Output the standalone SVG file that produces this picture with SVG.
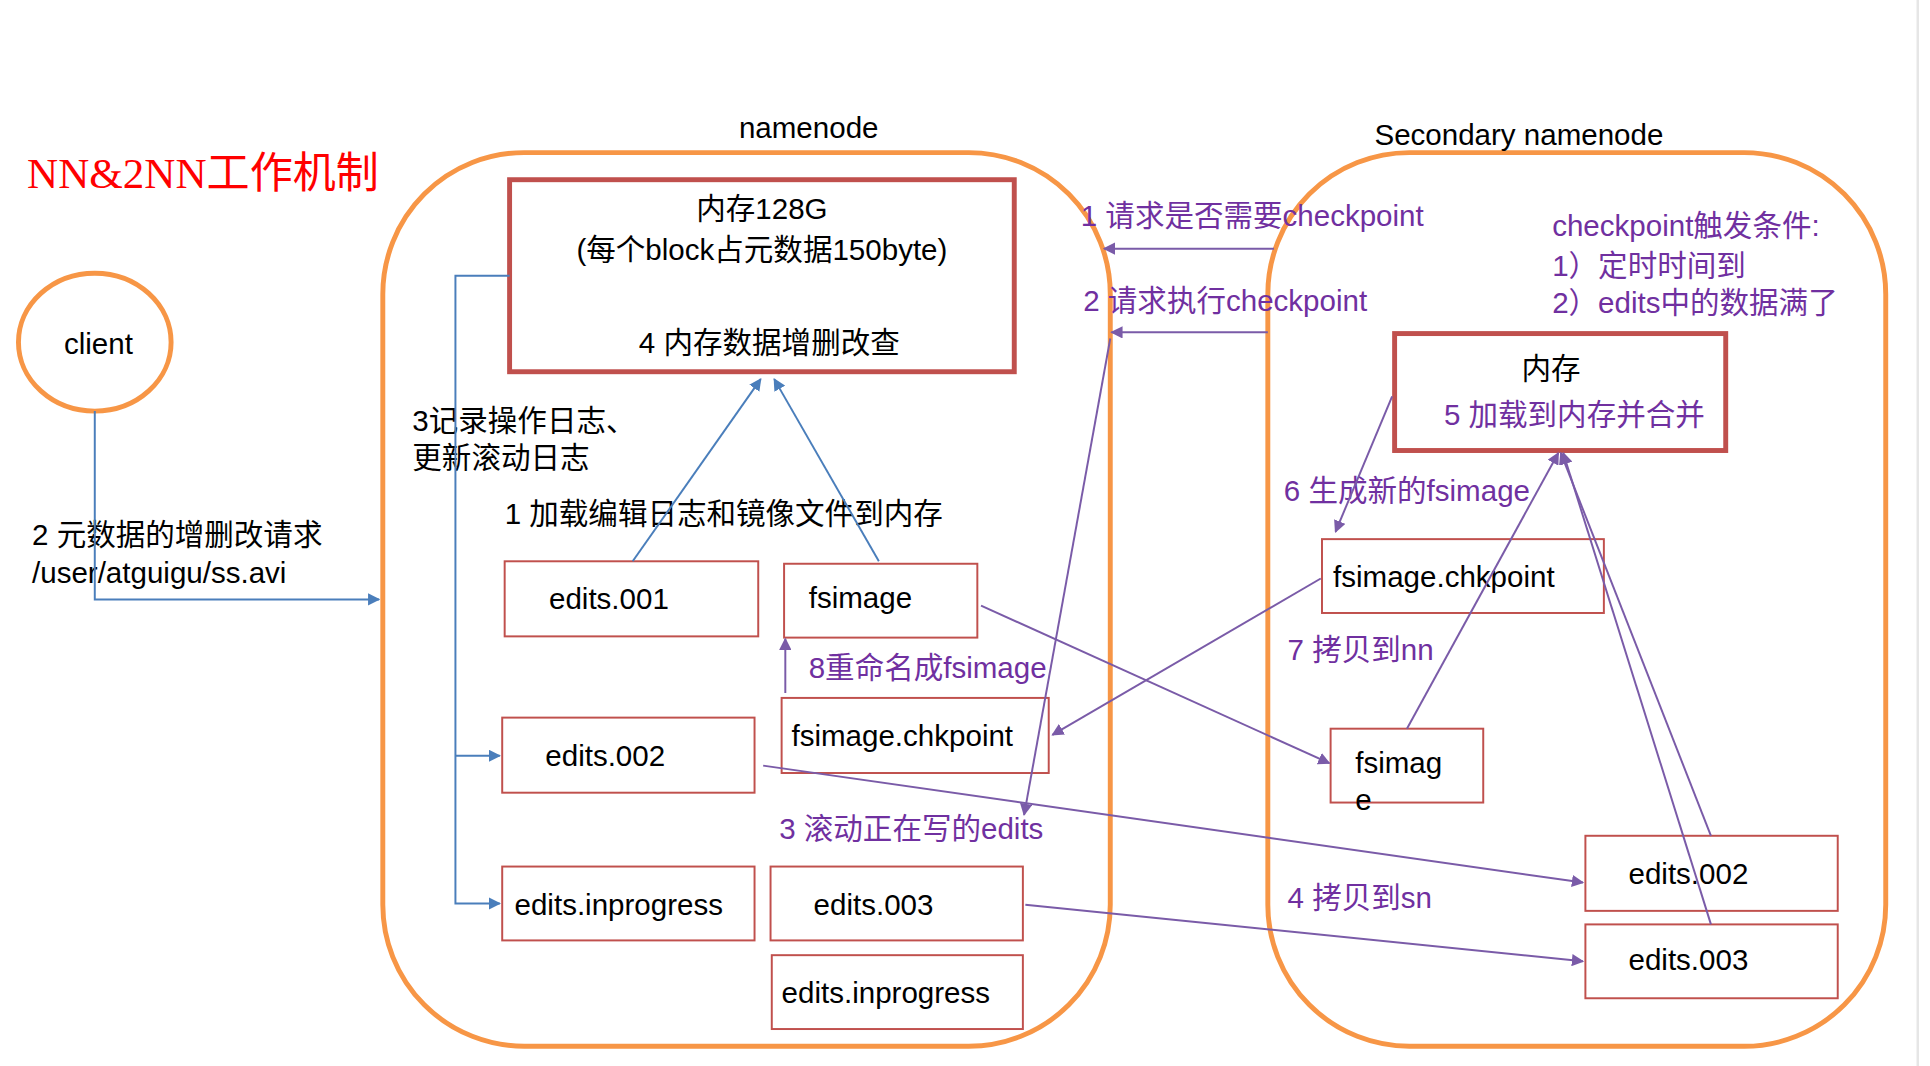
<svg xmlns="http://www.w3.org/2000/svg" width="1930" height="1066" viewBox="0 0 1930 1066">
<style>
text{font-family:"Liberation Sans","Noto Sans CJK SC",sans-serif;font-size:24px;fill:#000}
.p{fill:#7030a0}
.c{text-anchor:middle}
.b{fill:none;stroke:#c0504d;stroke-width:1.6}
.bt{fill:none;stroke:#c0504d;stroke-width:4}
.o{fill:none;stroke:#f79646;stroke-width:4}
.bl{fill:none;stroke:#4a7ebb;stroke-width:1.6}
.pl{fill:none;stroke:#7a5ba8;stroke-width:1.6}
</style>
<defs>
<marker id="ab" markerWidth="10" markerHeight="10" refX="9" refY="5" orient="auto" markerUnits="userSpaceOnUse"><path d="M0,0 L10,5 L0,10 z" fill="#4a7ebb"/></marker>
<marker id="ap" markerWidth="10" markerHeight="10" refX="9" refY="5" orient="auto" markerUnits="userSpaceOnUse"><path d="M0,0 L10,5 L0,10 z" fill="#7a5ba8"/></marker>
</defs>
<rect width="1930" height="1066" fill="#fff"/>
<g transform="scale(1.2309)">
<line x1="1558" y1="0" x2="1558" y2="866" stroke="#e6e6e6" stroke-width="2"/>
<text x="22" y="153" style="font-family:'Liberation Serif','Noto Sans CJK SC',serif;font-size:35px;fill:#ff0000">NN&amp;2NN工作机制</text>
<g id="namenode"><rect class="o" x="311" y="124" width="591" height="726" rx="115"/><text class="c" x="657" y="112">namenode</text></g>
<g id="secondary"><rect class="o" x="1030" y="124" width="502" height="726" rx="115"/><text class="c" x="1234" y="118">Secondary namenode</text></g>
<g id="client"><ellipse class="o" cx="77" cy="278" rx="62" ry="56"/><text class="c" x="80" y="288">client</text></g>
<g id="mem"><rect class="bt" x="414" y="146" width="410" height="156"/><text class="c" x="619" y="178">内存128G</text><text class="c" x="619" y="211">(每个block占元数据150byte)</text><text class="c" x="625" y="287">4 内存数据增删改查</text></g>
<g id="e001"><rect class="b" x="410" y="456" width="206" height="61"/><text x="446" y="495">edits.001</text></g>
<g id="fsimage"><rect class="b" x="637" y="458" width="157" height="60"/><text x="657" y="494">fsimage</text></g>
<g id="e002"><rect class="b" x="408" y="583" width="205" height="61"/><text x="443" y="622">edits.002</text></g>
<g id="chk"><rect class="b" x="635" y="567" width="217" height="61"/><text x="643" y="606">fsimage.chkpoint</text></g>
<g id="einp"><rect class="b" x="408" y="704" width="205" height="60"/><text x="418" y="743">edits.inprogress</text></g>
<g id="e003"><rect class="b" x="626" y="704" width="205" height="60"/><text x="661" y="743">edits.003</text></g>
<g id="einp2"><rect class="b" x="627" y="776" width="204" height="60"/><text x="635" y="815">edits.inprogress</text></g>
<g id="smem"><rect class="bt" x="1133" y="271" width="269" height="95"/><text class="c" x="1260" y="308">内存</text><text class="c p" x="1279" y="345">5 加载到内存并合并</text></g>
<g id="schk"><rect class="b" x="1074" y="438" width="229" height="60"/><text x="1083" y="477">fsimage.chkpoint</text></g>
<g id="sfs"><rect class="b" x="1081" y="592" width="124" height="60"/><text x="1101" y="628">fsimag</text><text x="1101" y="658">e</text></g>
<g id="se002"><rect class="b" x="1288" y="679" width="205" height="61"/><text x="1323" y="718">edits.002</text></g>
<g id="se003"><rect class="b" x="1288" y="751" width="205" height="60"/><text x="1323" y="788">edits.003</text></g>
<g id="labels">
<text x="26" y="443">2 元数据的增删改请求</text><text x="26" y="474">/user/atguigu/ss.avi</text>
<text x="335" y="350">3记录操作日志、</text><text x="335" y="380">更新滚动日志</text>
<text x="410" y="426">1 加载编辑日志和镜像文件到内存</text>
<text class="p" x="878" y="184">1 请求是否需要checkpoint</text>
<text class="p" x="880" y="253">2 请求执行checkpoint</text>
<text class="p" x="1261" y="192">checkpoint触发条件:</text>
<text class="p" x="1261" y="224">1）定时时间到</text>
<text class="p" x="1261" y="254">2）edits中的数据满了</text>
<text class="p" x="1043" y="407">6 生成新的fsimage</text>
<text class="p" x="1046" y="536">7 拷贝到nn</text>
<text class="p" x="657" y="551">8重命名成fsimage</text>
<text class="p" x="633" y="682">3 滚动正在写的edits</text>
<text class="p" x="1046" y="738">4 拷贝到sn</text>
</g>
<g id="connectors">
<polyline class="bl" points="77,334 77,487 308,487" marker-end="url(#ab)"/>
<polyline class="bl" points="414,224 370,224 370,734 406,734" marker-end="url(#ab)"/>
<line class="bl" x1="370" y1="614" x2="406" y2="614" marker-end="url(#ab)"/>
<line class="bl" x1="514" y1="456" x2="618" y2="308" marker-end="url(#ab)"/>
<line class="bl" x1="714" y1="456" x2="629" y2="308" marker-end="url(#ab)"/>
<line class="pl" x1="1035" y1="202" x2="897" y2="202" marker-end="url(#ap)"/>
<line class="pl" x1="1030" y1="270" x2="903" y2="270" marker-end="url(#ap)"/>
<line class="pl" x1="902" y1="275" x2="832" y2="662" marker-end="url(#ap)"/>
<line class="pl" x1="638" y1="563" x2="638" y2="519" marker-end="url(#ap)"/>
<line class="pl" x1="797" y1="492" x2="1080" y2="620" marker-end="url(#ap)"/>
<line class="pl" x1="1073" y1="470" x2="855" y2="597" marker-end="url(#ap)"/>
<line class="pl" x1="620" y1="622" x2="1286" y2="717" marker-end="url(#ap)"/>
<line class="pl" x1="833" y1="735" x2="1286" y2="781" marker-end="url(#ap)"/>
<line class="pl" x1="1131" y1="322" x2="1085" y2="432" marker-end="url(#ap)"/>
<line class="pl" x1="1143" y1="592" x2="1266" y2="368" marker-end="url(#ap)"/>
<line class="pl" x1="1390" y1="679" x2="1268" y2="368" marker-end="url(#ap)"/>
<line class="pl" x1="1390" y1="751" x2="1270" y2="368" marker-end="url(#ap)"/>
</g>
</g>
</svg>
